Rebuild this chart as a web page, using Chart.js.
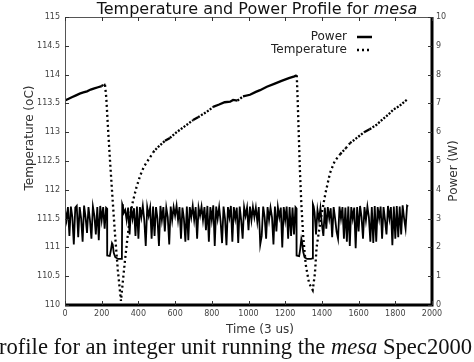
<!DOCTYPE html>
<html>
<head>
<meta charset="utf-8">
<script src="https://cdn.jsdelivr.net/npm/chart.js@4.4.1/dist/chart.umd.min.js"></script>
<style>
  html, body { margin: 0; padding: 0; background: #fff; }
  #wrap { width: 474px; height: 362px; }
</style>
</head>
<body>
<div id="wrap"><canvas id="myChart" width="474" height="362"></canvas></div>
<script>
// temperature samples (oC, left axis)
const tempTime = [0,20,40,60,80,100,120,140,160,180,200,212,218,225,232,245,258,272,288,305,
  315,327,340,354,370,390,410,430,450,465,480,500,520,545,572,600,630,660,698,725,760,785,807,
  840,870,900,916,940,970,1008,1040,1063,1100,1140,1180,1220,1250,1263,1268,1274,1280,1288,1298,
  1312,1330,1350,1356,1362,1371,1385,1399,1420,1444,1470,1500,1530,1553,1590,1630,1660,1698,
  1730,1760,1789,1820,1850,1866];
const tempValues = [113.55,113.58,113.61,113.64,113.67,113.69,113.71,113.74,113.76,113.78,113.80,
  113.84,113.82,113.60,113.20,112.52,111.90,111.25,110.60,110.07,
  110.40,110.78,111.15,111.53,111.80,112.05,112.25,112.40,112.50,112.57,112.65,112.72,112.78,
  112.85,112.90,112.98,113.05,113.12,113.21,113.26,113.33,113.38,113.44,113.48,113.52,113.53,
  113.56,113.55,113.62,113.65,113.70,113.73,113.79,113.84,113.89,113.94,113.97,113.99,113.55,
  112.95,112.35,111.75,111.20,110.70,110.38,110.26,110.40,110.55,111.00,111.30,111.59,111.95,
  112.29,112.50,112.62,112.72,112.81,112.90,113.00,113.05,113.13,113.22,113.30,113.39,113.45,
  113.53,113.57];

// power samples (W, right axis)
const powerTime = [0,8,16,24,32,40,48,56,64,72,80,88,96,104,112,120,128,136,144,152,160,168,176,184,
  192,200,208,216,224,229,230,244,250,256,260,266,274,290,306,310,312,316,320,
  328,336,344,352,360,368,376,384,392,400,408,416,424,432,440,448,456,464,472,480,488,496,504,512,
  520,528,536,544,552,560,568,576,584,592,600,608,616,624,632,640,648,656,664,672,680,688,696,704,
  712,720,728,736,744,752,760,768,776,784,792,800,808,816,824,832,840,848,856,864,872,880,888,896,
  904,912,920,928,936,944,952,960,968,976,984,992,1000,1008,1016,1024,1032,1040,1048,1056,1064,
  1072,1080,1088,1096,1104,1112,1120,1128,1136,1144,1152,1160,1168,1176,1184,1192,1200,1208,1216,
  1224,1232,1240,1248,1256,
  1261,1262,1276,1282,1288,1292,1298,1306,1320,1340,1348,1351,1355,1360,
  1368,1376,1384,1392,1400,1408,1416,1424,1432,1440,1448,1456,1464,1472,1480,1488,1496,1504,1512,
  1520,1528,1536,1544,1552,1560,1568,1576,1584,1592,1600,1608,1616,1624,1632,1640,1648,1656,1664,
  1672,1680,1688,1696,1704,1712,1720,1728,1736,1744,1752,1760,1768,1776,1784,1792,1800,1808,1816,
  1824,1832,1840,1848,1856,1864,1870];
const powerValues = [3.30,2.95,3.40,2.40,3.42,3.05,2.10,3.38,3.44,2.35,3.40,3.00,2.20,3.45,3.05,2.50,
  3.40,2.95,2.30,3.42,3.10,2.45,3.40,2.25,3.44,2.95,3.40,2.65,3.38,
  3.35,1.72,1.70,1.90,2.15,2.10,1.80,1.66,1.60,1.60,1.62,3.50,3.42,3.20,
  3.30,2.95,3.38,2.45,3.40,3.00,3.36,2.40,3.42,2.30,3.40,3.05,3.44,2.95,2.05,3.40,3.10,3.38,2.30,
  3.42,2.40,3.40,3.00,2.05,3.44,2.95,3.40,2.55,3.38,3.05,2.10,3.42,2.95,3.40,3.10,3.45,2.95,3.40,
  2.30,3.38,3.00,2.20,3.42,2.25,3.40,3.05,3.44,2.95,3.40,2.30,3.38,3.10,3.42,2.95,3.40,2.60,3.44,
  2.20,3.40,2.95,3.46,2.05,3.42,3.00,3.40,2.90,2.15,3.42,3.00,2.08,3.40,3.05,3.44,2.20,3.40,3.00,
  3.38,2.15,3.42,2.95,2.30,3.40,3.10,3.38,2.60,3.42,2.95,3.40,3.05,3.38,2.90,3.40,2.10,2.40,3.42,
  3.05,2.30,3.40,2.95,3.38,3.05,2.10,3.42,2.55,3.40,3.05,3.38,2.00,3.40,2.95,3.42,2.30,3.40,2.40,
  3.38,2.45,3.40,
  3.36,1.72,1.70,1.95,2.30,2.20,1.85,1.65,1.60,1.60,1.62,3.50,3.42,3.22,
  2.45,3.30,2.95,3.36,2.80,2.40,3.38,2.65,3.40,3.00,3.36,2.35,3.40,3.00,2.55,2.30,3.42,3.00,3.40,
  2.30,3.38,2.20,3.42,2.05,3.40,3.00,3.38,1.97,3.40,2.55,3.44,3.05,2.30,3.40,2.95,3.42,3.05,2.20,
  3.40,2.15,3.44,2.20,3.40,3.00,3.42,2.30,3.40,2.95,2.45,3.44,3.00,3.40,2.08,3.42,2.30,3.44,2.35,
  3.42,2.45,3.46,3.00,2.65,3.45,3.42];

const chartTitle = ['Temperature and Power Profile for ', 'mesa'];
const captionText = ['rofile for an integer unit running the ', 'mesa', ' Spec2000'];

const tickFont = { family: 'DejaVu Sans', size: 8 };
const axisTitleFont = '12px "DejaVu Sans"';

// draws text pieces, every second piece in italics
function drawPieces(c, pieces, x, y, size, family) {
  let xx = x;
  pieces.forEach((p, i) => {
    c.font = (i % 2 ? 'italic ' : '') + size + 'px ' + family;
    c.fillText(p, xx, y);
    xx += c.measureText(p).width;
  });
  return xx;
}
function piecesWidth(c, pieces, size, family) {
  let w = 0;
  pieces.forEach((p, i) => {
    c.font = (i % 2 ? 'italic ' : '') + size + 'px ' + family;
    w += c.measureText(p).width;
  });
  return w;
}

const decorations = {
  id: 'decorations',
  afterDraw(chart) {
    const c = chart.ctx;
    const a = chart.chartArea;
    const xs = chart.scales.x, yT = chart.scales.yT, yP = chart.scales.yP;
    c.save();

    // frame
    c.strokeStyle = '#555';
    c.lineWidth = 1;
    c.beginPath();
    c.moveTo(a.left + 0.5, a.bottom);
    c.lineTo(a.left + 0.5, a.top + 0.5);
    c.lineTo(a.right, a.top + 0.5);
    c.stroke();
    c.strokeStyle = '#000';
    c.lineWidth = 3;
    c.beginPath();
    c.moveTo(a.left, a.bottom);
    c.lineTo(a.right, a.bottom);
    c.moveTo(a.right, a.bottom + 1.5);
    c.lineTo(a.right, a.top);
    c.stroke();

    // inward tick marks
    c.strokeStyle = '#333';
    c.lineWidth = 1;
    c.beginPath();
    xs.ticks.forEach(t => {
      const px = Math.round(xs.getPixelForValue(t.value)) + 0.5;
      c.moveTo(px, a.bottom); c.lineTo(px, a.bottom - 4);
      c.moveTo(px, a.top); c.lineTo(px, a.top + 4);
    });
    yT.ticks.forEach(t => {
      const py = Math.round(yT.getPixelForValue(t.value)) + 0.5;
      c.moveTo(a.left, py); c.lineTo(a.left + 4, py);
    });
    yP.ticks.forEach(t => {
      const py = Math.round(yP.getPixelForValue(t.value)) + 0.5;
      c.moveTo(a.right, py); c.lineTo(a.right - 4, py);
    });
    c.stroke();

    // title
    c.fillStyle = '#111';
    c.textBaseline = 'alphabetic';
    c.textAlign = 'left';
    const tw = piecesWidth(c, chartTitle, 16, '"DejaVu Sans"');
    drawPieces(c, chartTitle, 257 - tw / 2, 14, 16, '"DejaVu Sans"');

    // legend
    const ds = chart.data.datasets;
    c.font = '12px "DejaVu Sans"';
    c.fillStyle = '#222';
    c.textAlign = 'right';
    c.textBaseline = 'middle';
    c.fillText(ds[0].label, 347, 37);
    c.fillText(ds[1].label, 347, 50);
    c.strokeStyle = '#000';
    c.lineWidth = 2.5;
    c.beginPath(); c.moveTo(357, 37); c.lineTo(372, 37); c.stroke();
    c.setLineDash([2, 3]);
    c.beginPath(); c.moveTo(357, 50); c.lineTo(369, 50); c.stroke();
    c.setLineDash([]);

    // axis titles
    c.font = axisTitleFont;
    c.fillStyle = '#333';
    c.textAlign = 'center';
    c.fillText('Time (3 us)', 260, 330);
    c.save();
    c.translate(30, 138);
    c.rotate(-Math.PI / 2);
    c.fillText('Temperature (oC)', 0, 0);
    c.restore();
    c.save();
    c.translate(454, 171);
    c.rotate(-Math.PI / 2);
    c.fillText('Power (W)', 0, 0);
    c.restore();

    // caption under the figure
    c.fillStyle = '#111';
    c.textAlign = 'left';
    c.textBaseline = 'alphabetic';
    drawPieces(c, captionText, -1, 354, 22.6, '"Liberation Serif"');
    c.restore();
  }
};

const ctx = document.getElementById('myChart');
const data = {
  datasets: [{
    label: 'Power',
    data: powerTime.map((t, i) => ({ x: t, y: powerValues[i] })),
    yAxisID: 'yP',
    borderColor: '#000',
    borderWidth: 1.8,
    pointRadius: 0,
    tension: 0
  }, {
    label: 'Temperature',
    data: tempTime.map((t, i) => ({ x: t, y: tempValues[i] })),
    yAxisID: 'yT',
    borderColor: '#000',
    borderWidth: 2.3,
    pointRadius: 0,
    tension: 0,
    segment: {
      borderDash: s => {
        const dx = Math.abs(s.p1.x - s.p0.x), dy = Math.abs(s.p1.y - s.p0.y);
        if (dy > dx * 1.2) return [2, 3];
        if (dy > dx * 0.6) return [2, 1.5];
        return [];
      }
    }
  }]
};

const noTicks = { display: false, drawTicks: false };
const config = {
  type: 'line',
  data: data,
  options: {
    responsive: false,
    animation: false,
    layout: { padding: { top: 17, left: 0, right: 0, bottom: 27 } },
    plugins: { legend: { display: false }, tooltip: { enabled: false }, title: { display: false } },
    scales: {
      x: {
        type: 'linear',
        min: 0,
        max: 2000,
        grid: noTicks,
        border: { display: false },
        ticks: { stepSize: 200, font: tickFont, color: '#444', padding: 4, maxRotation: 0, autoSkip: false, callback: v => String(v) },
        afterFit: s => { s.height = 30; }
      },
      yT: {
        position: 'left',
        min: 110,
        max: 115,
        grid: noTicks,
        border: { display: false },
        ticks: { stepSize: 0.5, font: tickFont, color: '#444', padding: 5, callback: v => String(v) },
        afterFit: s => { s.width = 65; }
      },
      yP: {
        position: 'right',
        min: 0,
        max: 10,
        grid: noTicks,
        border: { display: false },
        ticks: { stepSize: 1, font: tickFont, color: '#444', padding: 4 },
        afterFit: s => { s.width = 42; }
      }
    }
  },
  plugins: [decorations]
};
new Chart(ctx, config);
</script>
</body>
</html>
